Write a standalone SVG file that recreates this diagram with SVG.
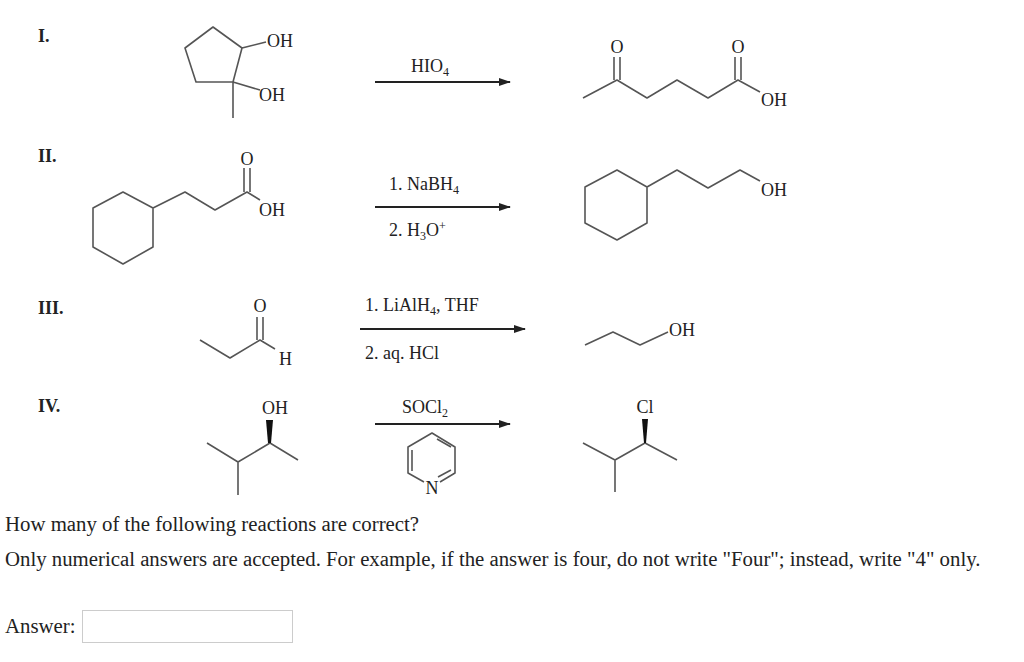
<svg xmlns="http://www.w3.org/2000/svg" width="1024" height="662" viewBox="0 0 1024 662">
<defs>
<marker id="ah" markerWidth="12" markerHeight="8" refX="11" refY="4" orient="auto" markerUnits="userSpaceOnUse"><path d="M0,0 L12,4 L0,8 Z" fill="#222"/></marker>
</defs>
<style>
.b{fill:none;stroke:#555;stroke-width:1.6;stroke-linejoin:round}
.t{font-family:"Liberation Serif",serif;font-size:18px;fill:#222}
.m{font-family:"Liberation Serif",serif;font-size:18px;fill:#222;text-anchor:middle}
.n{font-family:"Liberation Serif",serif;font-size:18px;font-weight:bold;fill:#222}
.q{font-family:"Liberation Serif",serif;font-size:20.8px;fill:#222}
.ar{stroke:#222;stroke-width:1.8;marker-end:url(#ah)}
</style>
<rect width="1024" height="662" fill="#fff"/>
<text class="n" x="38" y="42">I.</text>
<text class="n" x="38" y="162">II.</text>
<text class="n" x="38" y="314">III.</text>
<text class="n" x="38" y="412">IV.</text>
<!-- I reactant -->
<path class="b" d="M213,27 L242,48 L233,82 L196,82 L185,48 Z M242,48 L266,42 M233,82 L260,90 M233,82 L233,118"/>
<text class="t" x="267" y="47">OH</text>
<text class="t" x="259" y="101">OH</text>
<!-- arrow I -->
<line class="ar" x1="375" y1="82" x2="510" y2="82"/>
<text class="t" x="411" y="72">HIO<tspan font-size="12" dy="4">4</tspan></text>
<!-- I product -->
<path class="b" d="M583,98 L617,80 L647,98 L677,80 L708,98 L738,80 L760,92 M614,80 L614,57 M620,80 L620,57 M735,80 L735,57 M741,80 L741,57"/>
<text class="m" x="617" y="53">O</text>
<text class="m" x="738" y="53">O</text>
<text class="t" x="761" y="106">OH</text>
<!-- II reactant -->
<path class="b" d="M123,192 L153,208 L153,247 L123,264 L93,247 L93,208 Z M153,208 L185,192 L215,210 L247,192 L260,200 M244,192 L244,168 M250,192 L250,168"/>
<text class="m" x="247" y="165">O</text>
<text class="t" x="259" y="216">OH</text>
<!-- arrow II -->
<line class="ar" x1="375" y1="207" x2="510" y2="207"/>
<text class="t" x="389" y="190">1. NaBH<tspan font-size="12" dy="4">4</tspan></text>
<text class="t" x="389" y="236">2. H<tspan font-size="12" dy="4">3</tspan><tspan dy="-4">O</tspan><tspan font-size="12" dy="-6">+</tspan></text>
<!-- II product -->
<path class="b" d="M617,170 L647,187 L647,223 L617,240 L585,223 L585,187 Z M647,187 L677,170 L708,188 L740,170 L760,181"/>
<text class="t" x="761" y="196">OH</text>
<!-- III reactant -->
<path class="b" d="M200,340 L230,358 L260,340 L275,349 M257,340 L257,317 M263,340 L263,317"/>
<text class="m" x="260" y="312">O</text>
<text class="t" x="279" y="365">H</text>
<!-- arrow III -->
<line class="ar" x1="360" y1="329" x2="525" y2="329"/>
<text class="t" x="365" y="311">1. LiAlH<tspan font-size="12" dy="4">4</tspan><tspan dy="-4">, THF</tspan></text>
<text class="t" x="365" y="359">2. aq. HCl</text>
<!-- III product -->
<path class="b" d="M585,345 L613,332 L640,345 L668,332"/>
<text class="t" x="669" y="336">OH</text>
<!-- IV reactant -->
<path class="b" d="M207,443 L238,462 L270,443 L298,460 M238,462 L238,495"/>
<polygon points="266,420 273,420 271,443 268,443" fill="#111"/>
<text class="m" x="275" y="414">OH</text>
<!-- arrow IV -->
<line class="ar" x1="375" y1="424" x2="510" y2="424"/>
<text class="t" x="402" y="413">SOCl<tspan font-size="12" dy="4">2</tspan></text>
<path class="b" d="M424,482 L408,473 L408,447 L432,433 L455,447 L455,473 L440,482 M437,439 L451,447 M412,450 L412,471 M438,477 L451,470"/>
<text class="m" x="432" y="494">N</text>
<!-- IV product -->
<path class="b" d="M583,443 L615,460 L645,443 L677,460 M615,460 L615,492"/>
<polygon points="642,419 648,419 646,443 644,443" fill="#111"/>
<text class="m" x="645" y="413">Cl</text>
<!-- question -->
<text class="q" x="5" y="531">How many of the following reactions are correct?</text>
<text class="q" x="5" y="566">Only numerical answers are accepted. For example, if the answer is four, do not write "Four"; instead, write "4" only.</text>
<text class="q" x="5" y="633">Answer:</text>
<rect x="82.5" y="610.5" width="210" height="32" fill="#fff" stroke="#ccc"/>
</svg>
